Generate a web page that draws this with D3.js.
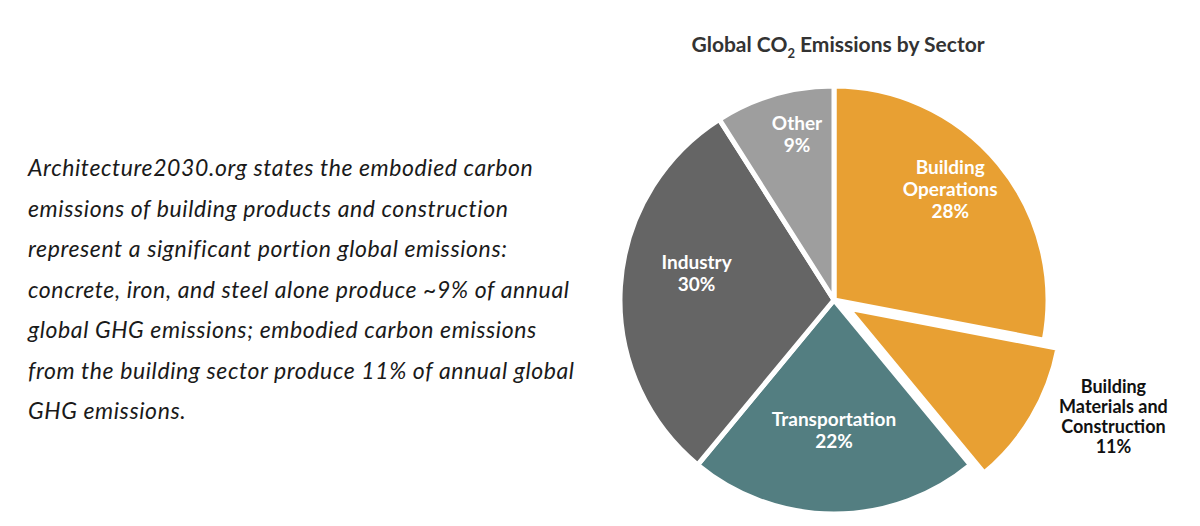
<!DOCTYPE html>
<html><head><meta charset="utf-8">
<script src="https://cdn.jsdelivr.net/npm/d3@7"></script>
<style>body{margin:0;background:#fff}</style>
</head><body><div id="chart"></div>
<script>
// データ
var sectors = ["Building Operations", "Building Materials and Construction", "Transportation", "Industry", "Other"];
var shares = [28, 11, 22, 30, 9];
var colors = ["#E8A033", "#E8A033", "#537E81", "#656565", "#9E9E9E"];
var labelLines = [["Building", "Operations", "28%"], ["Building", "Materials and", "Construction", "11%"], ["Transportation", "22%"], ["Industry", "30%"], ["Other", "9%"]];
var paragraph = [
  "Architecture2030.org states the embodied carbon",
  "emissions of building products and construction",
  "represent a significant portion global emissions:",
  "concrete, iron, and steel alone produce ~9% of annual",
  "global GHG emissions; embodied carbon emissions",
  "from the building sector produce 11% of annual global",
  "GHG emissions."
];

var svg = d3.select("#chart").append("svg").attr("width", 1200).attr("height", 526);

// 左側のテキスト
svg.append("g").selectAll("text").data(paragraph).enter().append("text")
  .attr("x", 28).attr("y", function(d, i) { return 176 + i * 40.5; })
  .attr("font-family", "Lato").attr("font-style", "italic").attr("font-size", 23)
  .attr("letter-spacing", 0.6)
  .attr("fill", "#1a1a1a").text(function(d) { return d; });

// タイトル
var title = svg.append("text").attr("x", 838).attr("y", 52).attr("text-anchor", "middle")
  .attr("font-family", "Lato").attr("font-weight", "bold").attr("font-size", 21).attr("fill", "#333");
title.append("tspan").text("Global CO");
title.append("tspan").attr("font-size", 13).attr("dy", 6).text("2");
title.append("tspan").attr("dy", -6).text(" Emissions by Sector");

var cx = 834, cy = 300, r = 214;
var pie = d3.pie().sort(null).value(function(d) { return d; });
var arcs = pie(shares);
var arc = d3.arc().innerRadius(0).outerRadius(r);
var g = svg.append("g").attr("transform", "translate(" + cx + "," + cy + ")");

function offset(d, i) {
  if (i !== 1) return [0, 0];
  var a = (d.startAngle + d.endAngle) / 2;
  return [Math.sin(a) * 16, -Math.cos(a) * 16];
}

g.selectAll("path").data(arcs).enter().append("path")
  .attr("d", arc)
  .attr("transform", function(d, i) { var o = offset(d, i); return "translate(" + o[0] + "," + o[1] + ")"; })
  .attr("fill", function(d, i) { return colors[i]; })
  .attr("stroke", "#fff").attr("stroke-width", 5).attr("stroke-linejoin", "round");

// ラベル
var labelArc = d3.arc().innerRadius(r * 0.62).outerRadius(r * 0.62);
var outerArc = d3.arc().innerRadius(r * 1.3).outerRadius(r * 1.3);
var nudge = [[14, -25], [40, -25], [0, -2], [-5, -18], [0, -38]];
arcs.forEach(function(d, i) {
  var inside = i !== 1;
  var p = inside ? labelArc.centroid(d) : outerArc.centroid(d);
  p[0] += nudge[i][0]; p[1] += nudge[i][1];
  var lines = labelLines[i];
  var lh = inside ? 22 : 20;
  var t = g.append("text").attr("text-anchor", "middle")
    .attr("font-family", "Lato").attr("font-weight", "bold")
    .attr("font-size", inside ? 19 : 18).attr("fill", inside ? "#fff" : "#111");
  lines.forEach(function(s, k) {
    t.append("tspan").attr("x", p[0]).attr("y", p[1] + (k - (lines.length - 1) / 2) * lh + 6).text(s);
  });
});
</script>
</body></html>
